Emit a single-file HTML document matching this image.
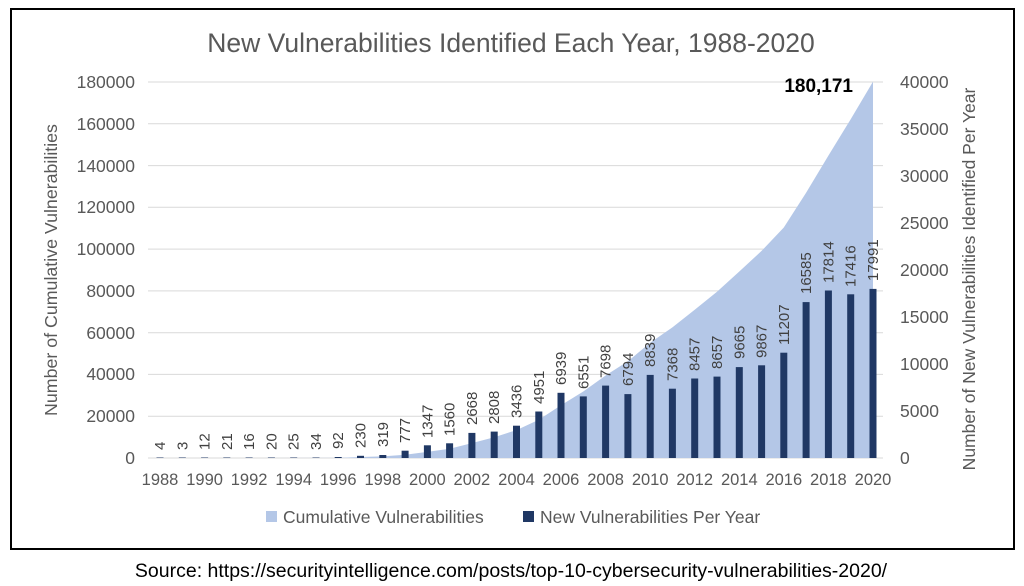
<!DOCTYPE html>
<html><head><meta charset="utf-8"><style>
body{margin:0;background:#fff;width:1024px;height:586px;overflow:hidden}
svg{display:block;font-family:"Liberation Sans",sans-serif}
</style></head><body>
<svg width="1024" height="586" viewBox="0 0 1024 586">
<rect x="11" y="9" width="1003" height="540" fill="#fff" stroke="#000" stroke-width="2"/>
<text x="511" y="52" text-anchor="middle" font-size="26.5" fill="#595959">New Vulnerabilities Identified Each Year, 1988-2020</text>
<g stroke="#d9d9d9" stroke-width="1">
<line x1="148" x2="883" y1="416.2" y2="416.2"/><line x1="148" x2="883" y1="374.4" y2="374.4"/>
<line x1="148" x2="883" y1="332.7" y2="332.7"/><line x1="148" x2="883" y1="290.9" y2="290.9"/>
<line x1="148" x2="883" y1="249.1" y2="249.1"/><line x1="148" x2="883" y1="207.3" y2="207.3"/>
<line x1="148" x2="883" y1="165.6" y2="165.6"/><line x1="148" x2="883" y1="123.8" y2="123.8"/>
<line x1="148" x2="883" y1="82" y2="82"/><line x1="148" x2="883" y1="458" y2="458"/>
</g>
<polygon fill="#b4c7e7" points="160,458 338.2,457.9 360.5,457 382.8,456.4 405.1,454.8 427.4,451.9 449.6,448.7 471.9,443.1 494.2,437.2 516.5,430.1 538.8,419.7 561,405.2 583.3,391.5 605.6,375.5 627.9,361.3 650.2,342.8 672.4,327.4 694.7,309.8 717,291.7 739.3,271.5 761.6,250.9 783.8,227.5 806.1,192.8 828.4,155.6 850.7,119.2 873,81.6 873,458"/>
<g fill="#203864">
<rect x="156.5" y="457.5" width="7" height="0.5"/><rect x="178.8" y="457.5" width="7" height="0.5"/><rect x="201.1" y="457.5" width="7" height="0.5"/><rect x="223.3" y="457.5" width="7" height="0.5"/><rect x="245.6" y="457.5" width="7" height="0.5"/><rect x="267.9" y="457.5" width="7" height="0.5"/><rect x="290.2" y="457.5" width="7" height="0.5"/><rect x="312.5" y="457.5" width="7" height="0.5"/><rect x="334.7" y="457" width="7" height="1"/>
<rect x="357" y="455.8" width="7" height="2.2"/><rect x="379.3" y="455" width="7" height="3"/><rect x="401.6" y="450.7" width="7" height="7.3"/><rect x="423.9" y="445.3" width="7" height="12.7"/><rect x="446.1" y="443.3" width="7" height="14.7"/><rect x="468.4" y="432.9" width="7" height="25.1"/><rect x="490.7" y="431.6" width="7" height="26.4"/><rect x="513" y="425.7" width="7" height="32.3"/><rect x="535.3" y="411.5" width="7" height="46.5"/><rect x="557.5" y="392.8" width="7" height="65.2"/><rect x="579.8" y="396.4" width="7" height="61.6"/><rect x="602.1" y="385.6" width="7" height="72.4"/><rect x="624.4" y="394.1" width="7" height="63.9"/><rect x="646.7" y="374.9" width="7" height="83.1"/><rect x="668.9" y="388.7" width="7" height="69.3"/><rect x="691.2" y="378.5" width="7" height="79.5"/><rect x="713.5" y="376.6" width="7" height="81.4"/><rect x="735.8" y="367.1" width="7" height="90.9"/><rect x="758.1" y="365.3" width="7" height="92.7"/><rect x="780.3" y="352.7" width="7" height="105.3"/><rect x="802.6" y="302.1" width="7" height="155.9"/><rect x="824.9" y="290.5" width="7" height="167.5"/><rect x="847.2" y="294.3" width="7" height="163.7"/><rect x="869.5" y="288.9" width="7" height="169.1"/>
</g>
<g font-size="15" fill="#404040">
<text transform="translate(165,450) rotate(-90)">4</text>
<text transform="translate(187.3,450) rotate(-90)">3</text>
<text transform="translate(209.6,450) rotate(-90)">12</text>
<text transform="translate(231.8,450) rotate(-90)">21</text>
<text transform="translate(254.1,450) rotate(-90)">16</text>
<text transform="translate(276.4,450) rotate(-90)">20</text>
<text transform="translate(298.7,450) rotate(-90)">25</text>
<text transform="translate(321,450) rotate(-90)">34</text>
<text transform="translate(343.2,449) rotate(-90)">92</text>
<text transform="translate(365.5,448) rotate(-90)">230</text>
<text transform="translate(387.8,447) rotate(-90)">319</text>
<text transform="translate(410.1,443) rotate(-90)">777</text>
<text transform="translate(432.4,438) rotate(-90)">1347</text>
<text transform="translate(454.6,436) rotate(-90)">1560</text>
<text transform="translate(476.9,425) rotate(-90)">2668</text>
<text transform="translate(499.2,424) rotate(-90)">2808</text>
<text transform="translate(521.5,418) rotate(-90)">3436</text>
<text transform="translate(543.8,404) rotate(-90)">4951</text>
<text transform="translate(566,385) rotate(-90)">6939</text>
<text transform="translate(588.3,389) rotate(-90)">6551</text>
<text transform="translate(610.6,378) rotate(-90)">7698</text>
<text transform="translate(632.9,386) rotate(-90)">6794</text>
<text transform="translate(655.2,367) rotate(-90)">8839</text>
<text transform="translate(677.4,381) rotate(-90)">7368</text>
<text transform="translate(699.7,371) rotate(-90)">8457</text>
<text transform="translate(722,369) rotate(-90)">8657</text>
<text transform="translate(744.3,359) rotate(-90)">9665</text>
<text transform="translate(766.6,358) rotate(-90)">9867</text>
<text transform="translate(788.8,345) rotate(-90)">11207</text>
<text transform="translate(811.1,294) rotate(-90)">16585</text>
<text transform="translate(833.4,283) rotate(-90)">17814</text>
<text transform="translate(855.7,287) rotate(-90)">17416</text>
<text transform="translate(878,281) rotate(-90)">17991</text>
</g>
<text x="853" y="92" text-anchor="end" font-size="19" font-weight="bold" fill="#000">180,171</text>
<g font-size="17.5" fill="#595959" text-anchor="end">
<text x="135" y="464">0</text><text x="135" y="422">20000</text><text x="135" y="380">40000</text><text x="135" y="339">60000</text><text x="135" y="297">80000</text><text x="135" y="255">100000</text><text x="135" y="213">120000</text><text x="135" y="172">140000</text><text x="135" y="130">160000</text><text x="135" y="88">180000</text>
</g>
<g font-size="17.5" fill="#595959">
<text x="900" y="464">0</text><text x="900" y="417">5000</text><text x="900" y="370">10000</text><text x="900" y="323">15000</text><text x="900" y="276">20000</text><text x="900" y="229">25000</text><text x="900" y="182">30000</text><text x="900" y="135">35000</text><text x="900" y="88">40000</text>
</g>
<g font-size="16.5" fill="#595959" text-anchor="middle">
<text x="160" y="485">1988</text><text x="204.6" y="485">1990</text><text x="249.1" y="485">1992</text><text x="293.7" y="485">1994</text><text x="338.2" y="485">1996</text><text x="382.8" y="485">1998</text><text x="427.4" y="485">2000</text><text x="471.9" y="485">2002</text><text x="516.5" y="485">2004</text><text x="561" y="485">2006</text><text x="605.6" y="485">2008</text><text x="650.2" y="485">2010</text><text x="694.7" y="485">2012</text><text x="739.3" y="485">2014</text><text x="783.8" y="485">2016</text><text x="828.4" y="485">2018</text><text x="873" y="485">2020</text>
</g>
<text transform="translate(57,270) rotate(-90)" text-anchor="middle" font-size="17.8" fill="#595959">Number of Cumulative Vulnerabilities</text>
<text transform="translate(975,279) rotate(-90)" text-anchor="middle" font-size="17.5" fill="#595959">Number of New Vulnerabilities Identified Per Year</text>
<rect x="266" y="511" width="11" height="11" fill="#b4c7e7"/>
<text x="283" y="523" font-size="17.5" fill="#595959">Cumulative Vulnerabilities</text>
<rect x="523" y="511" width="11" height="11" fill="#203864"/>
<text x="540" y="523" font-size="17.5" fill="#595959">New Vulnerabilities Per Year</text>
<text x="511" y="577" text-anchor="middle" font-size="19.5" fill="#000">Source: https://securityintelligence.com/posts/top-10-cybersecurity-vulnerabilities-2020/</text>
</svg>
</body></html>
